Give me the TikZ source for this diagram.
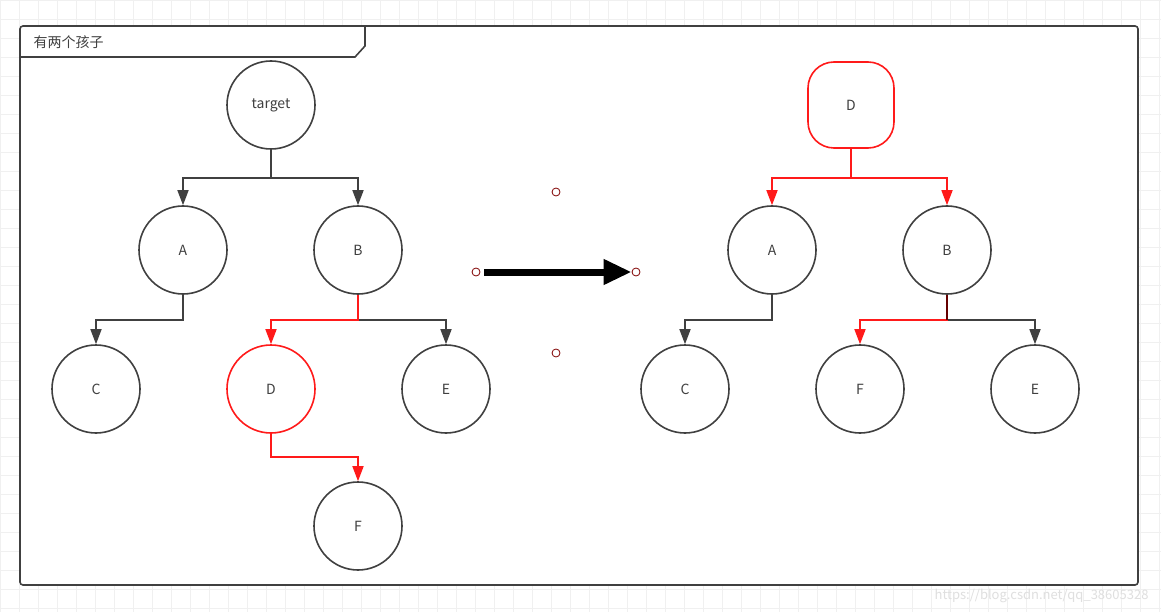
\documentclass[tikz,border=0pt]{standalone}
\usepackage{fontspec}
\setmainfont{Noto Sans CJK SC}
\usetikzlibrary{arrows.meta}
\definecolor{ink}{HTML}{404040}
\definecolor{hot}{HTML}{FF1A1A}
\begin{document}
\begin{tikzpicture}[x=1pt,y=-1pt,
  tn/.style={circle, draw=ink, line width=1.6pt, minimum size=88pt, inner sep=0pt, font=\fontsize{14}{16}\selectfont, text=ink},
  hn/.style={tn, draw=hot},
  link/.style={draw=ink, line width=1.6pt, -{Triangle[width=11pt,length=15pt]}},
  hlink/.style={link, draw=hot, -{Triangle[width=11pt,length=15pt,fill=hot]}},
  dot/.style={circle, draw=red!50!black, fill=white, line width=0.8pt, minimum size=8pt, inner sep=0pt}]
\useasboundingbox (0,0) rectangle (1161,612);
% grid background
\fill[white] (0,0) rectangle (1161,612);
\draw[gray!12, line width=0.6pt] (0,0) grid[step=19pt] (1161,612);
% frame with tab
\draw[ink, line width=1.6pt, rounded corners=3pt, fill=white] (20,26) rectangle (1138,585);
\draw[ink, line width=1.6pt] (20,57) -- (355,57) -- (365,46) -- (365,26);
\node[anchor=west, font=\fontsize{14}{16}\selectfont, text=ink] (title) at (30,42) {有两个孩子};
% LEFT TREE
\node[tn] (lt) at (271,105) {target};
\node[tn] (la) at (183,250) {A};
\node[tn] (lb) at (358,250) {B};
\node[tn] (lc) at (96,389) {C};
\node[hn] (ld) at (271,389) {D};
\node[tn] (le) at (446,389) {E};
\node[tn] (lf) at (358,526) {F};
\draw[link] (lt.south) |- (183,178) -- (la.north);
\draw[link] (lt.south) |- (358,178) -- (lb.north);
\draw[link] (la.south) |- (96,320) -- (lc.north);
\draw[link] (lb.south) |- (446,320) -- (le.north);
\draw[hlink] (lb.south) |- (271,320) -- (ld.north);
\draw[hlink] (ld.south) |- (358,457) -- (lf.north);
% ARROW
\node[dot] (d1) at (476,272) {};
\node[dot] (d2) at (636,272) {};
\node[dot] (d3) at (556,192) {};
\node[dot] (d4) at (556,353) {};
\draw[black, line width=7pt, -{Triangle[width=24pt,length=28pt]}] (d1.east) ++(4,0) -- (d2.west);
% RIGHT TREE
\node[hn, shape=rectangle, rounded corners=26pt, minimum size=86pt] (rd) at (851,105) {D};
\node[tn] (ra) at (772,250) {A};
\node[tn] (rb) at (947,250) {B};
\node[tn] (rc) at (685,389) {C};
\node[tn] (rf) at (860,389) {F};
\node[tn] (re) at (1035,389) {E};
\draw[hlink] (rd.south) |- (772,178) -- (ra.north);
\draw[hlink] (rd.south) |- (947,178) -- (rb.north);
\draw[link] (ra.south) |- (685,320) -- (rc.north);
\draw[link] (rb.south) |- (1035,320) -- (re.north);
\draw[hlink] (rb.south) |- (860,320) -- (rf.north);
\draw[red!40!black, line width=1.6pt] (rb.south) -- (947,320);
\node[anchor=east, text=gray!25, font=\fontsize{13}{15}\selectfont] (mark) at (1152,596) {https://blog.csdn.net/qq\_38605328};
\end{tikzpicture}
\end{document}
